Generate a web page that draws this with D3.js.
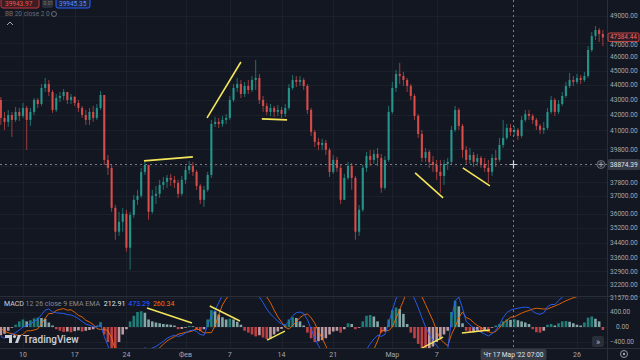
<!DOCTYPE html>
<html>
<head>
<meta charset="utf-8">
<script src="https://cdn.jsdelivr.net/npm/d3@7"></script>
<style>
  html, body { margin: 0; padding: 0; background: #131722; }
  svg { display: block; font-family: Roboto, "Liberation Sans", sans-serif; }
</style>
</head>
<body>
<script>
// BTC, 12h bars starting 7 Jan 2022
var startTime = new Date(2022, 0, 7, 0, 0);
var barHours = 12;
var firstOpen = 42983;

var closes = [41793,41535,41988,41665,42188,41923,42451,41665,42188,42983,
  42715,43796,44070,43523,42320,43115,43250,43523,42983,43183,
  42782,42451,41988,41665,42188,41793,42451,43318,39144,38657,
  36323,34992,35539,35984,34130,35923,36780,37006,38418,38837,
  36098,37006,37124,37644,37824,38061,37944,37764,37124,37944,
  38538,38777,38418,37587,36780,37358,38236,41404,41535,41404,
  41665,41793,42983,43796,44070,43387,43932,43660,44347,44486,
  42983,42582,42188,42451,42188,42320,42055,42451,43796,44347,
  44209,44347,43932,42320,40892,40258,40068,40195,39760,38418,
  39144,38657,36780,38061,38777,38061,34992,36212,38657,39387,
  39144,39510,39265,37472,39144,42188,43796,44765,44622,44347,
  43932,43250,41923,40762,39265,39635,39022,38837,38418,38178,
  38899,39022,41020,42320,41274,39760,39144,39448,39022,39265,
  38899,38657,38418,39265,39144,40068,40510,41147,40892,41020,
  40636,41665,42055,41923,41665,41274,41020,41147,42188,42983,
  42188,42715,43250,43932,44347,44209,44486,44347,44622,46466,
  47495,47940,47643,47384.44];

var highs = [43183,42188,42320,42188,42517,42451,42782,42582,42451,43115,
  43115,44070,44486,44347,43660,43387,43523,43728,43523,43387,
  43250,42983,42582,42320,42451,42582,42715,43592,43250,39448,
  38837,36488,36098,36323,36212,36098,37062,37358,38657,39022,
  38777,37358,37587,37944,38119,38236,38297,38178,37944,38178,
  38777,39083,39022,38538,37704,37587,38418,41665,41858,41793,
  41923,42055,43250,44070,44486,44347,44209,44347,44622,45749,
  44765,43250,42782,42715,42582,42648,42517,42715,44070,44691,
  44622,44622,44486,44070,42451,41020,40510,40447,40385,39883,
  39448,39326,38837,38297,39022,38960,38178,36488,38837,39635,
  39760,39760,39883,39510,39387,42582,44209,45044,45536,44905,
  44486,44070,43387,42055,41020,39883,39760,39387,39144,39144,
  39144,39265,41274,42582,42451,41404,40006,39883,39635,39510,
  39387,39265,39144,39510,39760,40510,41665,41404,41404,41274,
  41147,41923,42320,42320,42055,41793,41404,41535,42451,43250,
  43115,42983,43523,44209,44835,44622,44765,44691,44905,46760,
  47792,48242,48091,47940];

var lows = [41338,41020,41211,40572,41535,41600,41793,39760,41274,41988,
  42451,42582,43523,43250,42122,42188,42849,42983,42715,42715,
  42582,42188,41793,41338,41338,41535,41665,42320,38837,38236,
  36098,34556,34766,34992,33918,32978,35760,36488,36893,38236,
  35650,35984,36546,36893,37358,37472,37587,37472,36893,37006,
  37704,38297,38178,37358,36546,36377,37242,38061,41211,41147,
  41211,41404,41665,42849,43523,43115,43183,43387,43523,43660,
  42715,42188,41988,41923,41858,41923,41793,41858,42320,43660,
  43863,43932,43660,42055,40636,39945,39760,39760,39448,38119,
  38297,38418,36546,36893,37944,37358,34556,34766,36098,38418,
  38777,38899,38777,37183,37358,39022,42055,43523,44070,43932,
  43523,42983,41665,40510,39022,39022,38657,38418,37944,37183,
  37644,38538,38899,40892,41020,39265,38899,38899,38717,38777,
  38657,38418,37764,38178,38717,39022,39883,40385,40636,40636,
  40385,40510,41535,41665,41404,41020,40762,40762,41020,42055,
  41923,42055,42582,43115,43796,43932,44070,44070,44209,44486,
  46322,47197,47050,46760];

// MACD 12 26 9
var macdValues = [-250,-300,-250,-200,-150,-80,0,50,80,150,
  200,330,450,480,400,380,370,360,330,320,
  280,220,150,80,50,10,0,60,-250,-500,
  -850,-1200,-1350,-1400,-1500,-1400,-1250,-1050,-800,-550,
  -600,-560,-520,-450,-380,-300,-250,-220,-250,-220,
  -160,-100,-80,-120,-200,-220,50,300,450,650,
  850,950,1100,1250,1350,1300,1200,1100,1000,950,
  800,650,480,350,250,150,80,50,150,300,
  380,400,360,200,-50,-300,-500,-650,-800,-950,
  -1000,-1050,-1200,-1150,-1000,-900,-1100,-1050,-850,-600,
  -450,-320,-220,-250,-200,100,450,750,950,1050,
  1050,950,750,520,250,0,-200,-350,-500,-620,
  -620,-600,200,700,800,500,150,60,-20,-80,
  -140,-190,-240,-180,-80,60,250,380,450,480,
  500,520,530,520,420,360,340,380,540,600,
  600,700,800,860,880,880,870,860,960,1150,
  1250,1250,1230,1000];

var histValues = [-220,-180,-100,-20,60,150,200,150,180,230,
  250,240,220,120,40,-60,-100,-130,-120,-140,
  -110,-90,-120,-100,-80,-60,40,130,-200,-400,
  -560,-580,-400,-200,-60,150,300,400,420,380,
  200,150,120,100,80,70,60,40,-60,-50,
  -20,30,20,-80,-110,-60,200,450,420,330,
  260,200,220,200,140,60,-100,-150,-200,-250,
  -220,-280,-320,-300,-200,-120,-50,60,200,260,
  240,150,40,-150,-300,-400,-380,-350,-300,-200,
  -120,-100,-150,-60,100,80,-60,-20,150,300,
  320,280,150,-150,-120,200,450,520,480,350,
  80,-150,-300,-450,-560,-600,-580,-520,-400,-300,
  -200,-100,400,700,550,100,-100,-150,-140,-120,
  -130,-100,-120,-20,40,80,150,200,190,210,
  180,150,120,80,-60,-140,-150,-100,60,80,
  40,100,150,160,140,100,60,40,120,250,
  280,220,150,-80];

var priceTicks = [49000, 47000, 46000, 45000, 44000, 43000, 42000, 41000, 39800,
  38800, 37800, 37000, 36000, 35200, 34400, 33600, 32900, 32200, 31570];
var macdTicks = [400, 0, -400];

var dateTicks = [new Date(2022,0,10), new Date(2022,0,17), new Date(2022,0,24),
  new Date(2022,1,1), new Date(2022,1,7), new Date(2022,1,14), new Date(2022,1,21),
  new Date(2022,2,1), new Date(2022,2,7), new Date(2022,2,26)];
var dateLabels = ["10", "17", "24", "Фев", "7", "14", "21", "Мар", "7", "26"];

// user drawings: [t1, v1, t2, v2]
var priceDrawings = [
  [new Date(2022,0,26,9), 39083, new Date(2022,1,2,0), 39326],
  [new Date(2022,1,3,22), 41793, new Date(2022,1,8,12), 45607],
  [new Date(2022,1,11,8), 41729, new Date(2022,1,14,18), 41665],
  [new Date(2022,2,4,2), 38357, new Date(2022,2,7,21), 36893],
  [new Date(2022,2,10,13), 38657, new Date(2022,2,14,5), 37587]
];
var macdDrawings = [
  [new Date(2022,0,26,19), 507, new Date(2022,1,1,21), 107],
  [new Date(2022,1,4,7), 560, new Date(2022,1,8,9), 160],
  [new Date(2022,1,12,1), -347, new Date(2022,1,14,11), -107],
  [new Date(2022,2,5,0), -560, new Date(2022,2,7,21), -267],
  [new Date(2022,2,10,10), -160, new Date(2022,2,14,5), -80]
];

var crossTime = new Date(2022, 2, 17, 7, 0);
var crossPrice = 38874.39;
var lastPrice = 47384.44;
var legendValues = ["212.91", "473.29", "260.34"];

var width = 640, height = 360;
var plotRight = 607;
var priceTop = 0, priceBottom = 296, macdBottom = 348;

var upColor = "#26a69a", downColor = "#ef5350";
var gridColor = "#1c202b", textColor = "#a3a6af";

var bars = closes.map(function (c, i) {
  return {
    t: d3.timeHour.offset(startTime, barHours * i),
    o: i === 0 ? firstOpen : closes[i - 1],
    h: highs[i], l: lows[i], c: c,
    macd: macdValues[i], hist: histValues[i],
    signal: macdValues[i] - histValues[i],
    prevHist: i === 0 ? histValues[0] : histValues[i - 1]
  };
});

var x = d3.scaleTime()
  .domain([new Date(2022, 0, 10), new Date(2022, 2, 26)])
  .range([23, 577]);
var y = d3.scaleLog().domain([49000, 32200]).range([16, 285]);
var ym = d3.scaleLinear().domain([400, -400]).range([312, 342]);

var svg = d3.select("body").append("svg")
  .attr("width", width).attr("height", height);

svg.append("rect").attr("width", width).attr("height", height).attr("fill", "#131722");

var defs = svg.append("defs");
defs.append("clipPath").attr("id", "clipPrice").append("rect")
  .attr("x", 0).attr("y", priceTop).attr("width", plotRight).attr("height", priceBottom - priceTop);
defs.append("clipPath").attr("id", "clipMacd").append("rect")
  .attr("x", 0).attr("y", priceBottom + 1).attr("width", plotRight).attr("height", macdBottom - priceBottom - 1);

// grid
var grid = svg.append("g");
grid.selectAll(".hg").data(priceTicks).enter().append("line")
  .attr("x1", 0).attr("x2", plotRight)
  .attr("y1", function (d) { return Math.round(y(d)) + 0.5; })
  .attr("y2", function (d) { return Math.round(y(d)) + 0.5; })
  .attr("stroke", gridColor);
grid.selectAll(".vg").data(dateTicks).enter().append("line")
  .attr("x1", function (d) { return Math.round(x(d)) + 0.5; })
  .attr("x2", function (d) { return Math.round(x(d)) + 0.5; })
  .attr("y1", 0).attr("y2", macdBottom)
  .attr("stroke", gridColor);
grid.selectAll(".mg").data(macdTicks).enter().append("line")
  .attr("x1", 0).attr("x2", plotRight)
  .attr("y1", function (d) { return Math.round(ym(d)) + 0.5; })
  .attr("y2", function (d) { return Math.round(ym(d)) + 0.5; })
  .attr("stroke", gridColor);

// candles
var cg = svg.append("g").attr("clip-path", "url(#clipPrice)");
var bw = 2.2;
cg.selectAll(".wick").data(bars).enter().append("line")
  .attr("x1", function (d) { return x(d.t); })
  .attr("x2", function (d) { return x(d.t); })
  .attr("y1", function (d) { return y(Math.max(d.h, d.o, d.c)); })
  .attr("y2", function (d) { return y(Math.min(d.l, d.o, d.c)); })
  .attr("stroke", function (d) { return d.c >= d.o ? upColor : downColor; })
  .attr("stroke-width", 0.9).attr("opacity", 0.7);
cg.selectAll(".body").data(bars).enter().append("rect")
  .attr("x", function (d) { return x(d.t) - bw / 2; })
  .attr("width", bw)
  .attr("y", function (d) { return y(Math.max(d.o, d.c)); })
  .attr("height", function (d) { return Math.max(1, y(Math.min(d.o, d.c)) - y(Math.max(d.o, d.c))); })
  .attr("fill", function (d) { return d.c >= d.o ? upColor : downColor; })
  .attr("opacity", 0.78);

// price drawings
cg.selectAll(".draw").data(priceDrawings).enter().append("line")
  .attr("x1", function (d) { return x(d[0]); }).attr("y1", function (d) { return y(d[1]); })
  .attr("x2", function (d) { return x(d[2]); }).attr("y2", function (d) { return y(d[3]); })
  .attr("stroke", "#f5e65b").attr("stroke-width", 1.6);

// MACD pane
var mg = svg.append("g").attr("clip-path", "url(#clipMacd)");
var hw = 2.6;
mg.selectAll(".hist").data(bars).enter().append("rect")
  .attr("x", function (d) { return x(d.t) - hw / 2; })
  .attr("width", hw)
  .attr("y", function (d) { return Math.min(ym(0), ym(d.hist)); })
  .attr("height", function (d) { return Math.abs(ym(d.hist) - ym(0)); })
  .attr("fill", function (d) {
    if (d.hist >= 0) return d.hist >= d.prevHist ? "#26a69a" : "#b2dfdb";
    return d.hist < d.prevHist ? "#ff5252" : "#ffcdd2";
  })
  .attr("opacity", 0.72);

var macdLine = d3.line().x(function (d) { return x(d.t); }).y(function (d) { return ym(d.macd); });
var signalLine = d3.line().x(function (d) { return x(d.t); }).y(function (d) { return ym(d.signal); });
mg.append("path").datum(bars).attr("d", signalLine)
  .attr("fill", "none").attr("stroke", "#ff6d00").attr("stroke-width", 1).attr("opacity", 0.85);
mg.append("path").datum(bars).attr("d", macdLine)
  .attr("fill", "none").attr("stroke", "#2962ff").attr("stroke-width", 1).attr("opacity", 0.9);
mg.selectAll(".mdraw").data(macdDrawings).enter().append("line")
  .attr("x1", function (d) { return x(d[0]); }).attr("y1", function (d) { return ym(d[1]); })
  .attr("x2", function (d) { return x(d[2]); }).attr("y2", function (d) { return ym(d[3]); })
  .attr("stroke", "#f5e65b").attr("stroke-width", 1.4);

// pane borders
svg.append("line").attr("x1", 0).attr("x2", width).attr("y1", priceBottom + 0.5).attr("y2", priceBottom + 0.5)
  .attr("stroke", "#2a2e39");
svg.append("line").attr("x1", plotRight + 0.5).attr("x2", plotRight + 0.5).attr("y1", 0).attr("y2", height)
  .attr("stroke", "#2a2e39");
svg.append("line").attr("x1", 0).attr("x2", width).attr("y1", macdBottom + 0.5).attr("y2", macdBottom + 0.5)
  .attr("stroke", "#2a2e39");

// crosshair
var cx = Math.round(x(crossTime)) + 0.5, cy = Math.round(y(crossPrice)) + 0.5;
svg.append("line").attr("x1", cx).attr("x2", cx).attr("y1", 0).attr("y2", macdBottom)
  .attr("stroke", "#9598a1").attr("stroke-dasharray", "2,3").attr("opacity", 0.8);
svg.append("line").attr("x1", 0).attr("x2", plotRight).attr("y1", cy).attr("y2", cy)
  .attr("stroke", "#9598a1").attr("stroke-dasharray", "2,3").attr("opacity", 0.8);
svg.append("path").attr("d", "M" + (cx - 4) + "," + cy + "H" + (cx + 4) + "M" + cx + "," + (cy - 4) + "V" + (cy + 4))
  .attr("stroke", "#d1d4dc").attr("stroke-width", 1.2);

// price axis labels
var axis = svg.append("g").attr("font-size", 6.6).attr("fill", textColor);
axis.selectAll(".pt").data(priceTicks).enter().append("text")
  .attr("x", 610).attr("y", function (d) { return y(d); })
  .attr("dy", function (d) { return d === 47000 ? "0.6em" : "0.35em"; })
  .text(function (d) { return d3.format(".2f")(d); });
axis.selectAll(".mt").data(macdTicks).enter().append("text")
  .attr("x", function (d) { return d === 0 ? 616 : 610; }).attr("y", function (d) { return ym(d); })
  .attr("dy", "0.35em")
  .text(function (d) { return d3.format(".2f")(d).replace("-", "\u2212"); });
axis.selectAll(".dt").data(dateTicks).enter().append("text")
  .attr("x", function (d) { return x(d); }).attr("y", 357)
  .attr("text-anchor", "middle").attr("font-size", 7)
  .text(function (d, i) { return dateLabels[i]; });

// last price label
var ly = y(lastPrice);
svg.append("rect").attr("x", 608).attr("y", ly - 4.5).attr("width", 31).attr("height", 8.5)
  .attr("rx", 1.5).attr("fill", "#2a1c24").attr("stroke", "#ef5350").attr("stroke-width", 0.8);
svg.append("text").attr("x", 610).attr("y", ly - 0.3).attr("dy", "0.35em")
  .attr("font-size", 6.4).attr("fill", "#ef6b6b").text(d3.format(".2f")(lastPrice));

// crosshair price label
svg.append("rect").attr("x", 608).attr("y", cy - 5.5).attr("width", 32).attr("height", 11)
  .attr("rx", 1.5).attr("fill", "#363a45");
svg.append("text").attr("x", 610).attr("y", cy).attr("dy", "0.35em")
  .attr("font-size", 6.6).attr("fill", "#e0e3eb").text(d3.format(".2f")(crossPrice));
svg.append("circle").attr("cx", 601).attr("cy", cy).attr("r", 4)
  .attr("fill", "#2a2e39").attr("stroke", "#787b86").attr("stroke-width", 0.8);
svg.append("path").attr("d", "M598.5," + cy + "H603.5M601," + (cy - 2.5) + "V" + (cy + 2.5))
  .attr("stroke", "#b2b5be").attr("stroke-width", 0.8);

// crosshair time label
var tl = svg.append("g");
tl.append("rect").attr("x", cx - 33).attr("y", 349).attr("width", 66).attr("height", 11)
  .attr("rx", 1.5).attr("fill", "#363a45");
tl.append("text").attr("x", cx - 30).attr("y", 357).attr("font-size", 6.6).attr("fill", "#e0e3eb")
  .text("Чт 17 Мар '22");
tl.append("text").attr("x", cx + 30).attr("y", 357).attr("font-size", 6.6).attr("fill", "#e0e3eb")
  .attr("text-anchor", "end").text("07:00");

// MACD legend
var leg = svg.append("text").attr("x", 4).attr("y", 306).attr("font-size", 7);
leg.append("tspan").attr("fill", "#d1d4dc").text("MACD ");
leg.append("tspan").attr("fill", "#868993").text("12 26 close 9 EMA EMA ");
leg.append("tspan").attr("fill", "#e0e3eb").attr("dx", 2).text(legendValues[0]);
leg.append("tspan").attr("fill", "#2962ff").attr("dx", 3).text(legendValues[1]);
leg.append("tspan").attr("fill", "#ff6d00").attr("dx", 3).text(legendValues[2]);

// top-left legend
svg.append("rect").attr("x", 1).attr("y", -2).attr("width", 38).attr("height", 10).attr("rx", 2)
  .attr("fill", "#3b1d22").attr("stroke", "#c9363e");
svg.append("text").attr("x", 5).attr("y", 5.5).attr("font-size", 6.5).attr("fill", "#ef5350").text("39943.97");
svg.append("rect").attr("x", 42).attr("y", -2).attr("width", 11).attr("height", 10).attr("rx", 2)
  .attr("fill", "#2a2e39");
svg.append("text").attr("x", 43.5).attr("y", 5).attr("font-size", 5).attr("fill", "#787b86").text("0.01");
svg.append("rect").attr("x", 56).attr("y", -2).attr("width", 34).attr("height", 10).attr("rx", 2)
  .attr("fill", "#1a2340").attr("stroke", "#2962ff");
svg.append("text").attr("x", 59).attr("y", 5.5).attr("font-size", 6.5).attr("fill", "#5b8cff").text("39945.35");
svg.append("text").attr("x", 5).attr("y", 16).attr("font-size", 6.5).attr("fill", "#6a6d78").text("BB 20 close 2 0");
svg.append("circle").attr("cx", 54).attr("cy", 14).attr("r", 2.5).attr("fill", "none").attr("stroke", "#6a6d78");
svg.append("path").attr("d", "M7,25 L10,22 L13,25").attr("fill", "none").attr("stroke", "#a3a6af").attr("stroke-width", 1);

// TradingView logo
var logo = svg.append("g").attr("fill", "#e0e3eb").attr("opacity", 0.9);
logo.append("path").attr("d", "M5,335 h7 v8 h-3 v-5 h-4 z");
logo.append("circle").attr("cx", 14.5).attr("cy", 336.5).attr("r", 1.5);
logo.append("path").attr("d", "M15,343 l3,-8 h3 l-3,8 z");
logo.append("text").attr("x", 23).attr("y", 343).attr("font-size", 10).attr("font-weight", 500)
  .text("TradingView");

// scroll button and settings icon
svg.append("rect").attr("x", 592).attr("y", 336).attr("width", 12).attr("height", 11).attr("rx", 2)
  .attr("fill", "#2a2e39");
svg.append("text").attr("x", 598).attr("y", 344.5).attr("text-anchor", "middle").attr("font-size", 9)
  .attr("fill", "#b2b5be").text("»");
svg.append("circle").attr("cx", 624).attr("cy", 354).attr("r", 3.5).attr("fill", "none")
  .attr("stroke", "#a3a6af").attr("stroke-width", 0.9);
svg.append("circle").attr("cx", 624).attr("cy", 354).attr("r", 1.2).attr("fill", "#a3a6af");
</script>
</body>
</html>
